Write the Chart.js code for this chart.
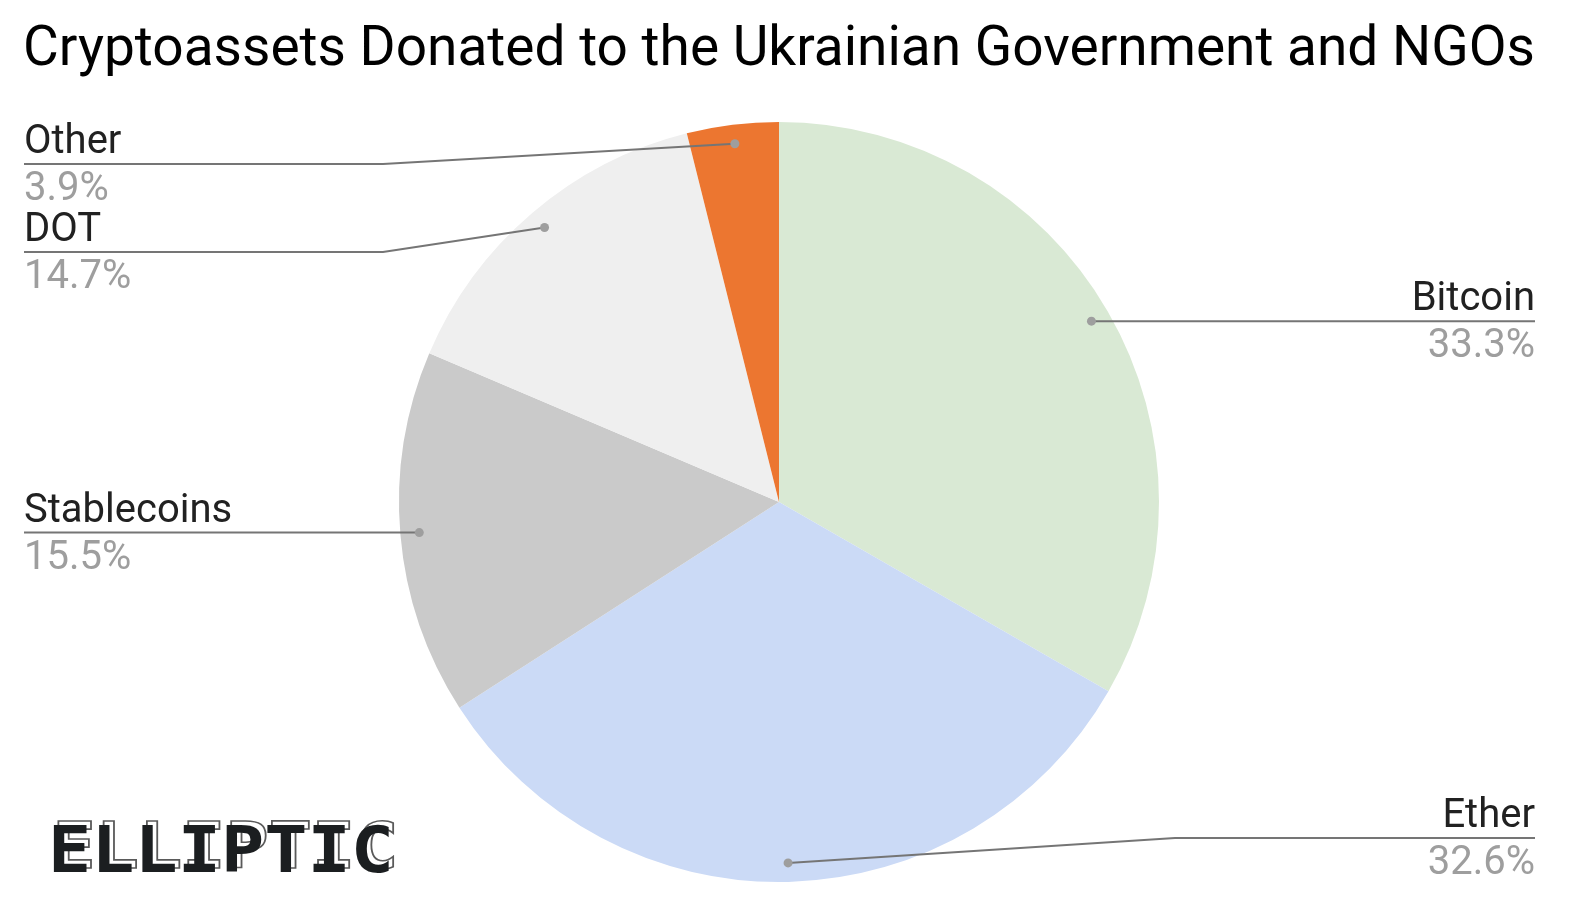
<!DOCTYPE html>
<html>
<head>
<meta charset="utf-8">
<script src="https://cdn.jsdelivr.net/npm/chart.js@4/dist/chart.umd.min.js"></script>
<style>
  html, body { margin: 0; padding: 0; background: #fff; }
  canvas { display: block; }
</style>
</head>
<body>
<canvas id="donationsChart" width="1570" height="906"></canvas>
<script>
// data
const categories = ["Bitcoin", "Ether", "Stablecoins", "DOT", "Other"];
const shares = [33.3, 32.6, 15.5, 14.7, 3.9];
const sliceColors = ["#d9e9d4", "#cbdaf6", "#cacaca", "#efefef", "#ec7630"];
const chartTitle = "Cryptoassets Donated to the Ukrainian Government and NGOs";
const brandName = "ELLIPTIC";

// callout labels with leader lines, Google Sheets style
var calloutPlugin = {
  id: "callouts",
  afterDatasetsDraw: function (chart) {
    var ctx = chart.ctx;
    var meta = chart.getDatasetMeta(0);
    var minY = 164, maxY = 838, gap = 88;
    var items = meta.data.map(function (arc, i) {
      var mid = (arc.startAngle + arc.endAngle) / 2;
      var r = arc.outerRadius * 0.95;
      var px = arc.x + Math.cos(mid) * r;
      var py = arc.y + Math.sin(mid) * r;
      return { i: i, px: px, py: py, y: py, right: Math.cos(mid) >= 0, cx: arc.x, R: arc.outerRadius };
    });
    [true, false].forEach(function (side) {
      var list = items.filter(function (it) { return it.right === side; })
        .sort(function (a, b) { return a.py - b.py; });
      var prev = -Infinity;
      list.forEach(function (it) { it.y = Math.max(it.py, minY, prev + gap); prev = it.y; });
      var next = Infinity;
      for (var k = list.length - 1; k >= 0; k--) {
        list[k].y = Math.min(list[k].y, maxY, next - gap);
        next = list[k].y;
      }
    });

    ctx.save();
    items.forEach(function (it) {
      var edgeX = it.right ? 1535 : 24;
      var elbowX = it.right ? it.cx + it.R + 16 : it.cx - it.R - 16;
      ctx.strokeStyle = "#757575";
      ctx.lineWidth = 2;
      ctx.beginPath();
      ctx.moveTo(edgeX, it.y);
      ctx.lineTo(elbowX, it.y);
      ctx.lineTo(it.px, it.py);
      ctx.stroke();
      ctx.fillStyle = "#9e9e9e";
      ctx.beginPath();
      ctx.arc(it.px, it.py, 4.5, 0, Math.PI * 2);
      ctx.fill();

      ctx.font = "40px Roboto";
      ctx.textAlign = it.right ? "right" : "left";
      ctx.textBaseline = "alphabetic";
      ctx.fillStyle = "#212121";
      ctx.fillText(categories[it.i], edgeX, it.y - 11);
      ctx.fillStyle = "#9e9e9e";
      ctx.fillText(shares[it.i].toFixed(1) + "%", edgeX, it.y + 36);
    });
    ctx.restore();
  }
};

// logo bottom left
var logoPlugin = {
  id: "logo",
  afterDraw: function (chart) {
    var ctx = chart.ctx;
    ctx.save();
    ctx.font = "bold 64px 'DejaVu Sans Mono'";
    ctx.textBaseline = "alphabetic";
    ctx.textAlign = "left";
    var w = ctx.measureText(brandName).width;
    var targetW = 346;
    ctx.translate(48, 872);
    ctx.scale(targetW / w, 1);
    ctx.lineJoin = "miter";
    ctx.fillStyle = "#ffffff";
    ctx.strokeStyle = "#5a5a5a";
    ctx.lineWidth = 1.6;
    ctx.fillText(brandName, 4, -4);
    ctx.strokeText(brandName, 4, -4);
    ctx.fillStyle = "#1b1e20";
    ctx.fillText(brandName, 0, 0);
    ctx.restore();
  }
};

var ctx = document.getElementById("donationsChart").getContext("2d");
var chart = new Chart(ctx, {
  type: "pie",
  data: {
    labels: categories,
    datasets: [
      {
        data: shares,
        backgroundColor: sliceColors,
        borderWidth: 0,
      },
    ],
  },
  options: {
    responsive: false,
    animation: false,
    layout: {
      padding: { left: 0, right: 12, top: 0, bottom: 24 },
    },
    plugins: {
      legend: { display: false },
      tooltip: { enabled: false },
      title: {
        display: true,
        text: chartTitle,
        color: "#000000",
        font: { family: "Roboto", size: 55, weight: "normal" },
        padding: { top: 18, bottom: 38 },
      },
    },
  },
  plugins: [calloutPlugin, logoPlugin],
});
</script>
</body>
</html>
